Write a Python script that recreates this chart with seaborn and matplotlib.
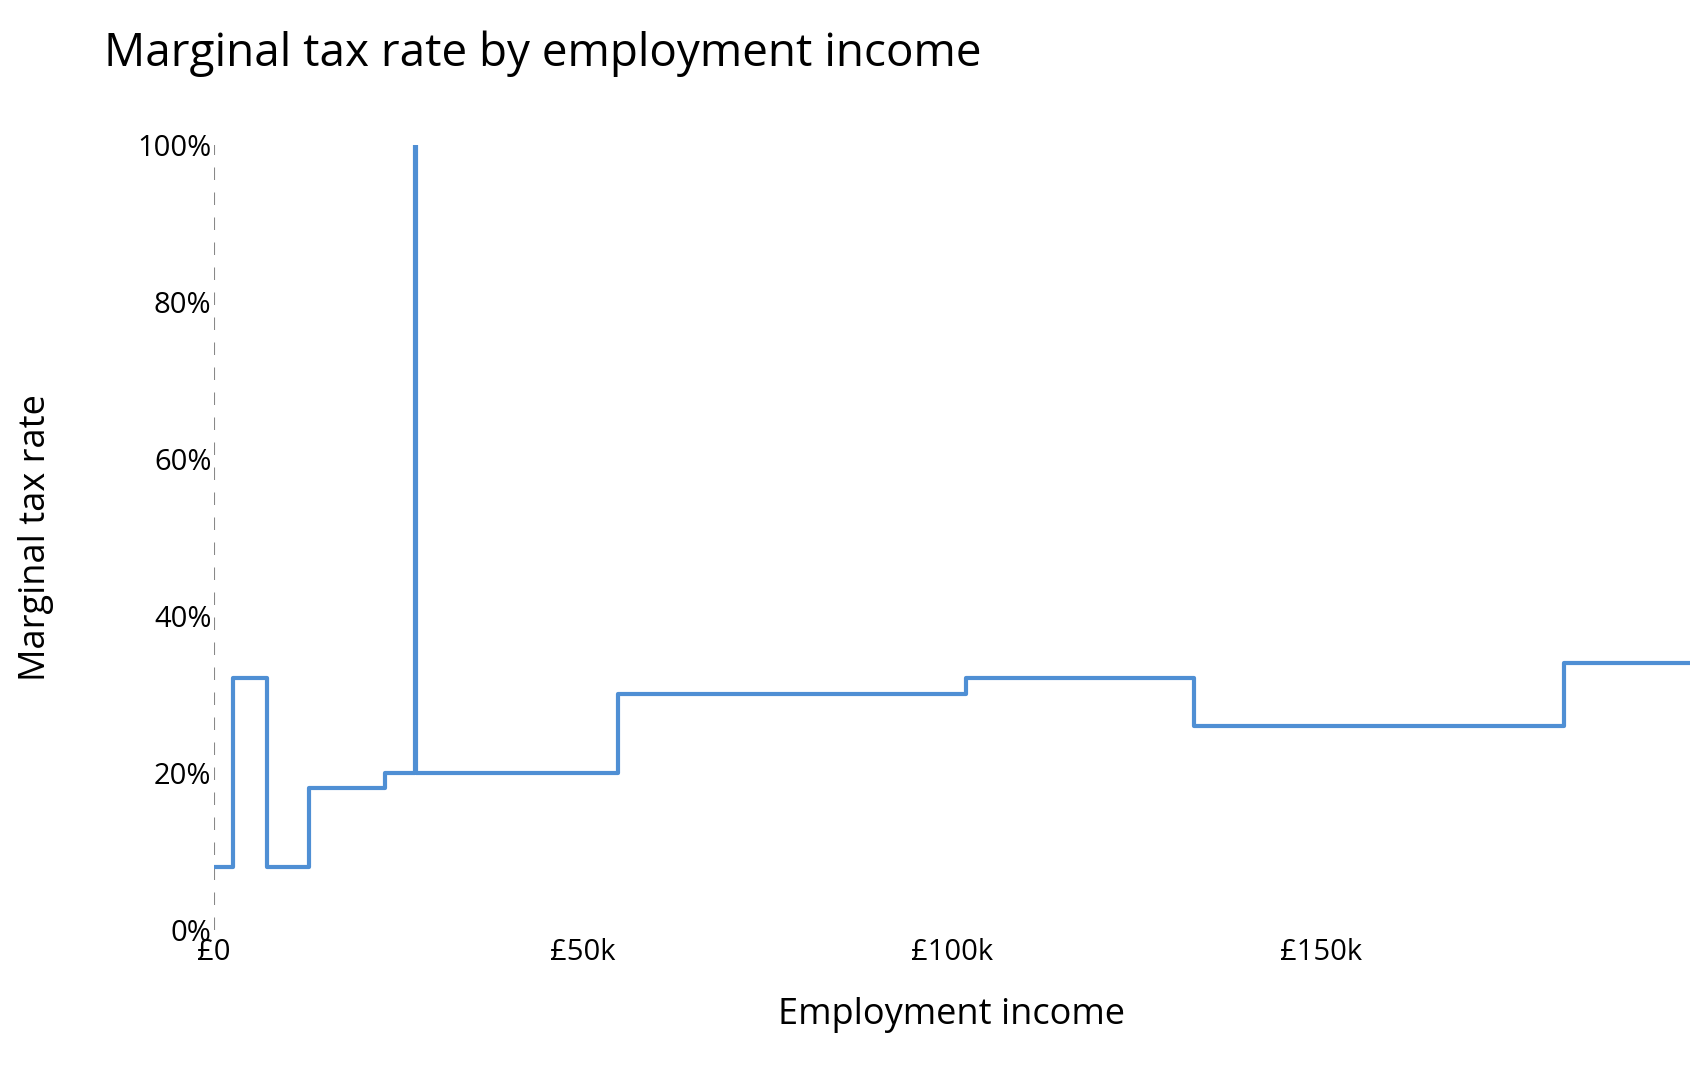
import matplotlib
matplotlib.use("Agg")
import matplotlib.pyplot as plt
import seaborn as sns
import pandas as pd
from matplotlib.ticker import FuncFormatter

# Step points of the marginal rate schedule (steps-post)
incomes = [0, 2500, 7100, 12900, 23200, 27200, 27300, 54700, 101900, 132800, 182900, 200000]
rates = [8, 32, 8, 18, 20, 100, 20, 30, 32, 26, 34, 34]

df = pd.DataFrame({"income": incomes, "rate": rates})

sns.set_theme(style="white")
plt.rcParams['font.family'] = ['Open Sans', 'DejaVu Sans']

fig = plt.figure(figsize=(17, 10.66), dpi=100)
ax = fig.add_axes([0.126, 0.128, 0.868, 0.736])

sns.lineplot(data=df, x="income", y="rate", estimator=None, drawstyle="steps-post",
             color="#4f8fd4", linewidth=3, ax=ax)
ax.axvline(0, color="#888888", linestyle=(0, (6, 6)), linewidth=1.5, zorder=0)

ax.set_xlim(0, 200000)
ax.set_ylim(0, 100)
ax.set_xticks([0, 50000, 100000, 150000])
ax.xaxis.set_major_formatter(FuncFormatter(lambda v, p: "£0" if v == 0 else f"£{int(v/1000)}k"))
ax.set_yticks([0, 20, 40, 60, 80, 100])
ax.yaxis.set_major_formatter(FuncFormatter(lambda v, p: f"{int(v)}%"))
ax.tick_params(labelsize=21, length=0, pad=2, labelcolor="black")
ax.tick_params(axis="x", pad=6)
for s in ax.spines.values():
    s.set_visible(False)
ax.set_xlabel("Employment income", fontsize=26, labelpad=22, color="black")
ax.set_ylabel("Marginal tax rate", fontsize=26, labelpad=60, color="black")
fig.text(0.061, 0.95, "Marginal tax rate by employment income", fontsize=33, va="center", color="black")

fig.savefig("out.png", dpi=100)
